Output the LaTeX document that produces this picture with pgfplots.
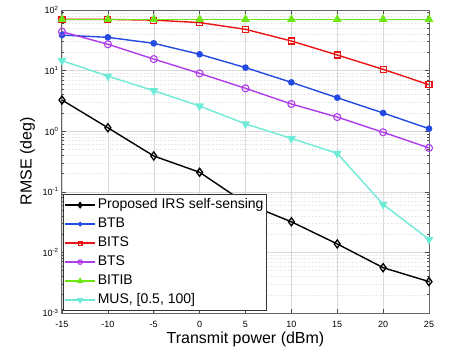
\documentclass[border=0pt]{standalone}
\usepackage{pgfplots}
\pgfplotsset{compat=1.18}
\usepackage{fontspec}
\setmainfont{Liberation Sans}
\definecolor{cblue}{RGB}{35,75,225}
\definecolor{cred}{RGB}{235,20,20}
\definecolor{cpurple}{RGB}{175,60,235}
\definecolor{cgreen}{RGB}{110,230,20}
\definecolor{ccyan}{RGB}{110,235,215}
\begin{document}
\begin{tikzpicture}
\begin{axis}[
  scale only axis,
  width=367pt, height=303pt,
  ymode=log,
  xmin=-15, xmax=25, ymin=1e-3, ymax=1e2,
  xtick={-15,-10,-5,0,5,10,15,20,25},
  xticklabels={-15,-10,-5,0,5,10,15,20,25},
  ytick={1e-3,1e-2,1e-1,1e0,1e1,1e2},
  yticklabels={10\textsuperscript{-3},10\textsuperscript{-2},10\textsuperscript{-1},10\textsuperscript{0},10\textsuperscript{1},10\textsuperscript{2}},
  ticklabel style={font=\fontsize{9}{10}\selectfont},
  xticklabel style={yshift=-5pt},
  tick align=inside,
  major tick length=4pt, minor tick length=2pt,
  tick style={black!70, line width=0.6pt},
  axis line style={black!60, line width=1pt},
  xmajorgrids, ymajorgrids, yminorgrids,
  major grid style={black!15, line width=0.5pt},
  minor grid style={black!12, dotted, line width=0.5pt},
  xlabel={Transmit power (dBm)},
  ylabel={RMSE (deg)},
  label style={font=\fontsize{16}{18}\selectfont},
  xlabel style={at={(axis description cs:0.5,-0.099)}, anchor=base},
  ylabel style={at={(axis description cs:-0.0831,0.5)}, anchor=base, rotate=0},
  legend style={at={(rel axis cs:0,0)}, anchor=south west, xshift=1pt, yshift=2pt,
    font=\fontsize{14}{16}\selectfont, draw=black!80, line width=0.8pt, inner sep=1pt,
    nodes={inner ysep=2.75pt, text height=10.5pt, text depth=3pt}, row sep=0pt},
  legend cell align=left,
  legend image code/.code={\draw[mark repeat=2,mark phase=2,#1,every mark/.append style={scale=0.65}] plot coordinates {(0pt,0pt) (15pt,0pt) (30pt,0pt)};},
  every axis plot/.append style={line width=1.4pt},
]
\addplot[black, mark=diamond, mark size=4pt, mark options={solid, line width=1.3pt}] coordinates {
(-15,3.27) (-10,1.14) (-5,0.39) (0,0.21) (5,0.065) (10,0.032) (15,0.0138) (20,0.0056) (25,0.0033)};
\addlegendentry{Proposed IRS self-sensing}
\addplot[cblue, mark=*, mark size=2.6pt] coordinates {
(-15,38.6) (-10,35.4) (-5,28.2) (0,18.6) (5,11.2) (10,6.4) (15,3.57) (20,2.0) (25,1.1)};
\addlegendentry{BTB}
\addplot[cred, mark=square, mark size=3pt, mark options={line width=1.1pt}] coordinates {
(-15,70) (-10,70) (-5,68) (0,62) (5,48) (10,30.8) (15,18.1) (20,10.5) (25,5.85)};
\addlegendentry{BITS}
\addplot[cpurple, mark=o, mark size=3.5pt, mark options={line width=1.1pt}] coordinates {
(-15,43.9) (-10,27.2) (-5,15.5) (0,9.0) (5,5.1) (10,2.81) (15,1.71) (20,0.96) (25,0.53)};
\addlegendentry{BTS}
\addplot[cgreen, mark=triangle*, mark size=3.8pt] coordinates {
(-15,70) (-10,70) (-5,70) (0,70) (5,70) (10,70) (15,70) (20,70) (25,70)};
\addlegendentry{BITIB}
\addplot[ccyan, mark=triangle*, mark size=3.8pt, mark options={rotate=180}] coordinates {
(-15,14.6) (-10,8.1) (-5,4.66) (0,2.6) (5,1.32) (10,0.76) (15,0.43) (20,0.062) (25,0.0164)};
\addlegendentry{MUS, [0.5, 100]}
\end{axis}
\path (current axis.south west) ++(-62pt,-50pt) coordinate (bbA);
\path (current axis.north east) ++(45pt,10pt) coordinate (bbB);
\path (bbA) rectangle (bbB);
\end{tikzpicture}
\end{document}
